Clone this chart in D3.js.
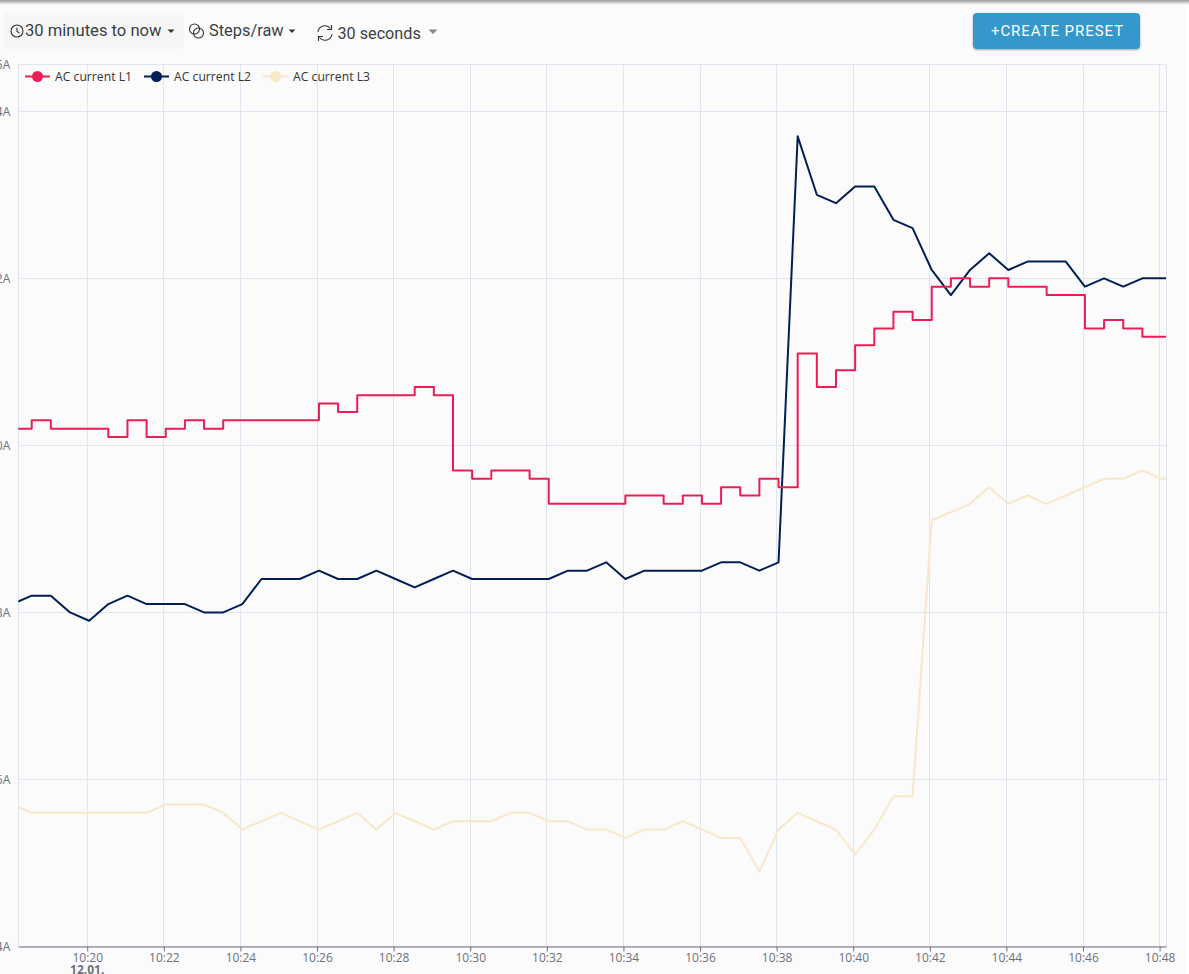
<!DOCTYPE html>
<html>
<head>
<meta charset="utf-8">
<title>AC current</title>
<script src="https://cdn.jsdelivr.net/npm/d3@7"></script>
<style>
  html, body { margin: 0; padding: 0; background: #fff; overflow: hidden; }
  svg { display: block; font-family: Roboto, sans-serif; }
  .axis text { font-size: 12px; fill: #6E7079; font-family: "Open Sans", Roboto, sans-serif; }
  .legend text { font-size: 12.2px; fill: #333; font-family: "Open Sans", Roboto, sans-serif; }
</style>
</head>
<body>
<div id="chart"></div>
<script>
// Series, one value every 30 seconds, from 10:18:03
var seriesNames = ["AC current L1", "AC current L2", "AC current L3"];
var seriesColors = ["#E91E55", "#001F55", "#F7E8C8"];
var seriesCurves = [d3.curveStepAfter, d3.curveLinear, d3.curveLinear];

var currentL1 = [7.02,7.03,7.02,7.02,7.02,7.01,7.03,7.01,7.02,7.03,7.02,7.03,7.03,7.03,7.03,7.03,7.05,7.04,7.06,7.06,7.06,7.07,7.06,6.97,6.96,6.97,6.97,6.96,6.93,6.93,6.93,6.93,6.94,6.94,6.93,6.94,6.93,6.95,6.94,6.96,6.95,7.11,7.07,7.09,7.12,7.14,7.16,7.15,7.19,7.20,7.19,7.20,7.19,7.19,7.18,7.18,7.14,7.15,7.14,7.13,7.13,7.13];
var currentL2 = [6.81,6.82,6.82,6.80,6.79,6.81,6.82,6.81,6.81,6.81,6.80,6.80,6.81,6.84,6.84,6.84,6.85,6.84,6.84,6.85,6.84,6.83,6.84,6.85,6.84,6.84,6.84,6.84,6.84,6.85,6.85,6.86,6.84,6.85,6.85,6.85,6.85,6.86,6.86,6.85,6.86,7.37,7.30,7.29,7.31,7.31,7.27,7.26,7.21,7.18,7.21,7.23,7.21,7.22,7.22,7.22,7.19,7.20,7.19,7.20,7.20,7.20];
var currentL3 = [6.57,6.56,6.56,6.56,6.56,6.56,6.56,6.56,6.57,6.57,6.57,6.56,6.54,6.55,6.56,6.55,6.54,6.55,6.56,6.54,6.56,6.55,6.54,6.55,6.55,6.55,6.56,6.56,6.55,6.55,6.54,6.54,6.53,6.54,6.54,6.55,6.54,6.53,6.53,6.49,6.54,6.56,6.55,6.54,6.51,6.54,6.58,6.58,6.91,6.92,6.93,6.95,6.93,6.94,6.93,6.94,6.95,6.96,6.96,6.97,6.96,6.96];
var allSeries = [currentL1, currentL2, currentL3];

var yTicks = [6.4, 6.6, 6.8, 7.0, 7.2, 7.4, 7.456];

var startTime = new Date(2022, 0, 12, 10, 18, 3);
var times = currentL1.map(function(d, i) { return d3.timeSecond.offset(startTime, i * 30); });
var xStart = new Date(2022, 0, 12, 10, 18, 12);
var xEnd = new Date(2022, 0, 12, 10, 48, 10);
var xTicks = d3.timeMinute.range(new Date(2022, 0, 12, 10, 20), new Date(2022, 0, 12, 10, 49), 2);

var width = 1189, height = 974;
var margin = {top: 64.5, right: 23, bottom: 27.5, left: 18.3};
var gridColor = "#E0E6F1";

var svg = d3.select("#chart")
  .append("svg")
    .attr("width", width)
    .attr("height", height);

var x = d3.scaleTime()
  .domain([xStart, xEnd])
  .range([margin.left, width - margin.right]);

var y = d3.scaleLinear()
  .domain([6.4, 7.456])
  .range([height - margin.bottom, margin.top]);

drawPage();
drawGrid();
drawAxes();
drawLines();
drawLegend();
drawToolbar();

// keep 1px rules sharp
function crisp(v) {
  return Math.floor(v) + 0.5;
}

function drawPage() {
  var defs = svg.append("defs");
  var fade = defs.append("linearGradient")
    .attr("id", "topShadow")
    .attr("x1", 0).attr("x2", 0).attr("y1", 0).attr("y2", 1);
  fade.append("stop").attr("offset", 0).attr("stop-color", "#9a9a9a");
  fade.append("stop").attr("offset", 1).attr("stop-color", "#ffffff");

  var blur = defs.append("filter").attr("id", "btnShadow")
    .attr("x", "-10%").attr("y", "-20%").attr("width", "120%").attr("height", "150%");
  blur.append("feDropShadow")
    .attr("dx", 0).attr("dy", 1).attr("stdDeviation", 1.2)
    .attr("flood-color", "#000").attr("flood-opacity", 0.35);

  defs.append("clipPath").attr("id", "plotClip")
    .append("rect")
    .attr("x", x.range()[0])
    .attr("y", y.range()[1])
    .attr("width", x.range()[1] - x.range()[0])
    .attr("height", y.range()[0] - y.range()[1]);

  svg.append("rect")
    .attr("width", 1185).attr("height", height).attr("y", 3)
    .attr("rx", 4)
    .attr("fill", "#FBFBFC");
  svg.append("rect")
    .attr("width", width).attr("height", 5)
    .attr("fill", "url(#topShadow)");
}

function drawGrid() {
  var grid = svg.append("g").attr("fill", "none").attr("stroke", gridColor);

  grid.selectAll(".h")
    .data(yTicks)
    .enter()
    .append("line")
      .attr("x1", x.range()[0])
      .attr("x2", x.range()[1])
      .attr("y1", function(d) { return crisp(y(d)); })
      .attr("y2", function(d) { return crisp(y(d)); });

  grid.selectAll(".v")
    .data([xStart].concat(xTicks).concat([xEnd]))
    .enter()
    .append("line")
      .attr("x1", function(d) { return crisp(x(d)); })
      .attr("x2", function(d) { return crisp(x(d)); })
      .attr("y1", y.range()[0])
      .attr("y2", y.range()[1]);
}

function drawAxes() {
  var xAxis = d3.axisBottom(x)
    .tickValues(xTicks)
    .tickFormat(d3.timeFormat("%H:%M"))
    .tickSize(5)
    .tickPadding(2)
    .tickSizeOuter(0);

  var gx = svg.append("g")
    .attr("class", "axis")
    .attr("transform", "translate(0," + y.range()[0] + ")")
    .call(xAxis);
  gx.selectAll("path, line").attr("stroke", "#6E7079");

  // the date sits under the first tick only
  svg.append("text")
    .attr("x", x(xTicks[0]))
    .attr("y", 974)
    .attr("text-anchor", "middle")
    .attr("font-size", 12)
    .attr("font-weight", "bold")
    .attr("font-family", "'Open Sans', Roboto, sans-serif")
    .attr("fill", "#6E7079")
    .text("12.01.");

  // labels run off the left edge of the page, as in the screenshot
  var yAxis = d3.axisLeft(y)
    .tickValues(yTicks)
    .tickFormat(function(d) { return d3.format(".1f")(d) + "A"; })
    .tickSize(0)
    .tickPadding(8);

  var gy = svg.append("g")
    .attr("class", "axis")
    .attr("transform", "translate(" + x.range()[0] + ",0)")
    .call(yAxis);
  gy.select(".domain").remove();
}

function drawLines() {
  var plot = svg.append("g").attr("clip-path", "url(#plotClip)");

  // L3 first, L1 is on top where they cross
  [2, 1, 0].forEach(function(s) {
    var line = d3.line()
      .curve(seriesCurves[s])
      .x(function(d, i) { return x(times[i]); })
      .y(function(d) { return y(d); });

    plot.append("path")
      .datum(allSeries[s])
      .attr("fill", "none")
      .attr("stroke", seriesColors[s])
      .attr("stroke-width", 2)
      .attr("stroke-linejoin", "round")
      .attr("d", line);
  });
}

function drawLegend() {
  var legendX = [25, 144, 263];
  var legend = svg.selectAll(".legend")
    .data(seriesNames)
    .enter()
    .append("g")
      .attr("class", "legend")
      .attr("transform", function(d, i) { return "translate(" + legendX[i] + ",76.5)"; });

  legend.append("line")
    .attr("x2", 25)
    .attr("stroke", function(d, i) { return seriesColors[i]; })
    .attr("stroke-width", 2);

  legend.append("circle")
    .attr("cx", 12.5)
    .attr("r", 5.5)
    .attr("fill", function(d, i) { return seriesColors[i]; });

  legend.append("text")
    .attr("x", 30)
    .attr("dy", "0.35em")
    .text(function(d) { return d; });
}

function caret(cx, cy, w, color) {
  svg.append("path")
    .attr("d", d3.line()([[cx - w, cy], [cx + w, cy], [cx, cy + w]]))
    .attr("fill", color);
}

function drawToolbar() {
  var textColor = "#3a3f47";
  var toolbar = svg.append("g").attr("fill", textColor).attr("font-size", 16);

  svg.insert("rect", "g")
    .attr("x", 4).attr("y", 13)
    .attr("width", 180).attr("height", 36)
    .attr("rx", 3)
    .attr("fill", "#F6F6F6");

  // clock
  var icons = svg.append("g").attr("fill", "none").attr("stroke", "#333").attr("stroke-width", 1.1);
  icons.append("circle").attr("cx", 17).attr("cy", 31).attr("r", 6);
  icons.append("path").attr("d", "M17 27.5V31.5L19.5 33");
  toolbar.append("text").attr("x", 25).attr("y", 36).attr("font-size", 16.6).text("30 minutes to now");
  caret(171, 29.5, 3.5, "#333");

  // overlapping circles
  icons.append("circle").attr("cx", 194.5).attr("cy", 29).attr("r", 5);
  icons.append("circle").attr("cx", 198.5).attr("cy", 33).attr("r", 5);
  toolbar.append("text").attr("x", 209).attr("y", 36).attr("font-size", 16.4).text("Steps/raw");
  caret(292, 29.5, 3.5, "#333");

  // refresh arrows
  icons.append("path").attr("d", "M318 32A7 7 0 0 1 330.5 28.5M332 34A7 7 0 0 1 319.5 37.5");
  icons.append("path").attr("d", "M331.5 25V29.5H327M318.5 41V36.5H323");
  toolbar.append("text").attr("x", 337.5).attr("y", 39).attr("font-size", 16.2).text("30 seconds");
  caret(433, 29.5, 4.5, "#888");

  // button
  svg.append("rect")
    .attr("x", 973).attr("y", 13)
    .attr("width", 167).attr("height", 36)
    .attr("rx", 4)
    .attr("fill", "#3498CC")
    .attr("filter", "url(#btnShadow)");
  svg.append("text")
    .attr("x", 1057.5).attr("y", 36)
    .attr("text-anchor", "middle")
    .attr("fill", "#fff")
    .attr("font-size", 15)
    .attr("letter-spacing", 0.95)
    .text("+CREATE PRESET");
}
</script>
</body>
</html>
